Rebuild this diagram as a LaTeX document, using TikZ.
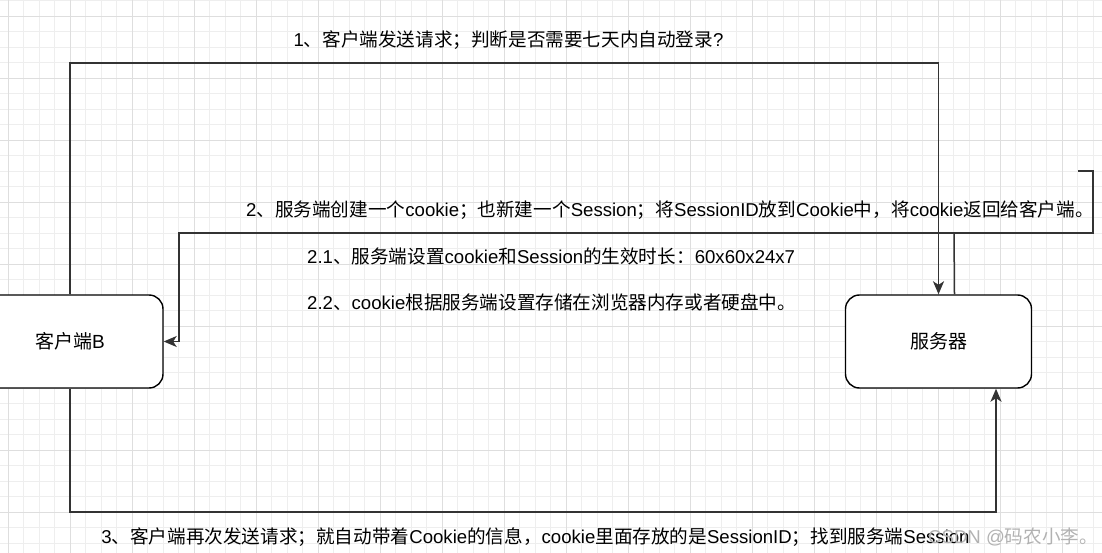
\documentclass[tikz,border=0pt]{standalone}
\usepackage{fontspec}
\setmainfont{Liberation Sans}
\newfontfamily\zhfont{Noto Sans CJK SC}
\newcommand{\zh}[1]{{\zhfont #1}}
\usetikzlibrary{arrows.meta,calc}
\definecolor{linec}{HTML}{333333}
\definecolor{gridminor}{HTML}{EEEEEE}
\definecolor{gridmajor}{HTML}{DEDEDE}
\tikzset{
  box/.style={draw=black, line width=1.4pt, fill=white, rounded corners=14pt, minimum width=186pt, minimum height=93pt, inner sep=0pt, font=\fontsize{19}{22}\selectfont},
  conn/.style={draw=linec, line width=1.5pt},
  arr/.style={-{Stealth[length=13pt,width=11pt,inset=3.5pt]}},
  lbl/.style={inner sep=0pt, font=\fontsize{18.6}{22}\selectfont},
  minorln/.style={draw=gridminor, line width=0.8pt},
  majorln/.style={draw=gridmajor, line width=0.9pt},
}
\begin{document}
\begin{tikzpicture}[x=1pt,y=-1pt]
\useasboundingbox (0,0) rectangle (1102,553);
\fill[white] (0,0) rectangle (1102,553);
\begin{scope}
\clip (0,0) rectangle (1102,553);
\foreach \i in {0,...,72} \draw[minorln] ({-7.2+15.5*\i},0) -- ++(0,553);
\foreach \i in {0,...,36} \draw[minorln] (0,{0.5+15.5*\i}) -- ++(1102,0);
\foreach \i in {0,...,17} \draw[majorln] ({8.3+62*\i},0) -- ++(0,553);
\foreach \i in {0,...,8} \draw[majorln] (0,{16+62*\i}) -- ++(1102,0);
\end{scope}

\node[box] (client) at (70,341.5) {\zh{客户端}B};
\node[box] (server) at (938.5,341.5) {\zh{服务器}};

\coordinate (c1) at (70,63);
\draw[conn,arr] (client.north) -- (c1) -| (server.north);

\coordinate (s2) at ($(server.north)+(16,0)$);
\coordinate (s2top) at (954,233);
\draw[conn] (s2) -- (s2top);
\coordinate (p1) at (1078,171);
\coordinate (p2) at (1093,171);
\coordinate (p3) at (1093,233);
\coordinate (p4) at (179,233);
\draw[conn,arr] (p1) -- (p2) -- (p3) -- (p4) |- (client.east);

\coordinate (s3) at ($(server.south)+(57.5,0)$);
\coordinate (c3) at (70,512);
\draw[conn,arr] (client.south) -- (c3) -| (s3);

\node[lbl] (l1) at (508.5,40) {1\zh{、客户端发送请求；判断是否需要七天内自动登录}?};
\node[lbl] (l2) at (670,210) {2\zh{、服务端创建一个}cookie\zh{；也新建一个}Session\zh{；将}SessionID\zh{放到}Cookie\zh{中，将}cookie\zh{返回给客户端。}};
\node[lbl,anchor=west] (l21) at (307,256) {2.1\zh{、服务端设置}cookie\zh{和}Session\zh{的生效时长：}60x60x24x7};
\node[lbl,anchor=west] (l22) at (307,302) {2.2\zh{、}cookie\zh{根据服务端设置存储在浏览器内存或者硬盘中。}};
\node[lbl] (l3) at (535.5,537) {3\zh{、客户端再次发送请求；就自动带着}Cookie\zh{的信息，}cookie\zh{里面存放的是}SessionID\zh{；找到服务端}Session};
\node[lbl,text=black!30,anchor=west] (wm) at (928,537) {CSDN @\zh{码农小李。}};
\end{tikzpicture}
\end{document}
